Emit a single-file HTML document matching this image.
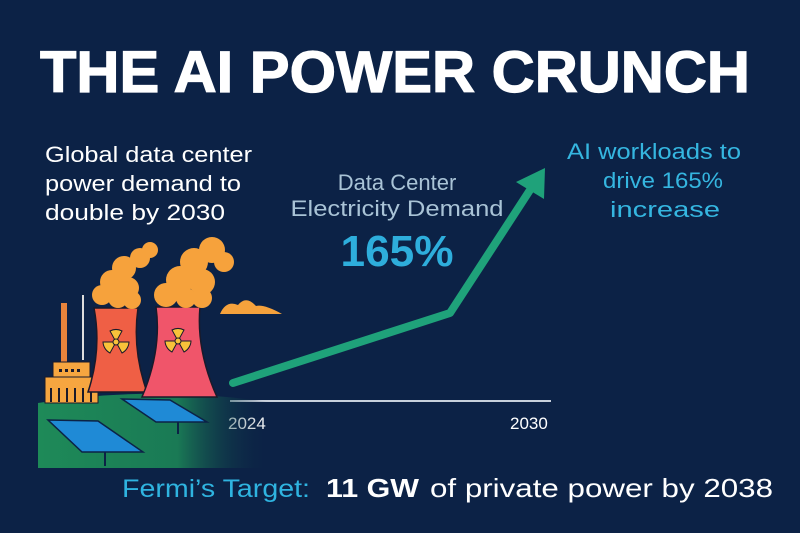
<!DOCTYPE html>
<html><head><meta charset="utf-8"><style>
html,body{margin:0;padding:0;background:#0c2246;}
svg{display:block}
text{font-family:"Liberation Sans",sans-serif}
</style></head><body>
<svg width="800" height="533" viewBox="0 0 800 533" xmlns="http://www.w3.org/2000/svg">
<defs>
<linearGradient id="hill" x1="0" x2="1" y1="0" y2="0">
<stop offset="0" stop-color="#1e8a58"/><stop offset="0.6" stop-color="#1a7a55"/><stop offset="1" stop-color="#0c2246" stop-opacity="0"/>
</linearGradient>
</defs>
<rect width="800" height="533" fill="#0c2246"/>
<text x="40" y="92" font-size="58" font-weight="bold" fill="#ffffff" stroke="#ffffff" stroke-width="1.2" textLength="710" lengthAdjust="spacingAndGlyphs">THE AI POWER CRUNCH</text>

<g fill="#ffffff" font-size="22">
<text x="45" y="162" textLength="207" lengthAdjust="spacingAndGlyphs">Global data center</text>
<text x="45" y="191" textLength="196" lengthAdjust="spacingAndGlyphs">power demand to</text>
<text x="45" y="220" textLength="180" lengthAdjust="spacingAndGlyphs">double by 2030</text>
</g>
<g fill="#a9c3d6" font-size="22" text-anchor="middle">
<text x="397" y="190">Data Center</text>
<text x="397" y="216" textLength="213" lengthAdjust="spacingAndGlyphs">Electricity Demand</text>
</g>
<text x="397" y="266" text-anchor="middle" font-size="44" font-weight="bold" fill="#2eaedc" textLength="113" lengthAdjust="spacingAndGlyphs">165%</text>
<g fill="#35b6e0" font-size="22">
<text x="567" y="159" textLength="174" lengthAdjust="spacingAndGlyphs">AI workloads to</text>
<text x="603" y="188" textLength="120" lengthAdjust="spacingAndGlyphs">drive 165%</text>
<text x="610" y="217" textLength="110" lengthAdjust="spacingAndGlyphs">increase</text>
</g>

<line x1="230" y1="401" x2="551" y2="401" stroke="#c8d0dc" stroke-width="2"/>
<text x="228" y="429" fill="#ffffff" font-size="17">2024</text>
<text x="510" y="429" fill="#ffffff" font-size="17">2030</text>
<polyline points="233,383 450,313 530,190" fill="none" stroke="#1fa27a" stroke-width="8" stroke-linecap="round" stroke-linejoin="round"/>
<polygon points="545,168 544,199 516,182" fill="#1fa27a"/>

<path d="M38,403 Q150,385 270,402 L270,468 L38,468 Z" fill="url(#hill)"/>
<rect x="61" y="303" width="6" height="60" fill="#e8843c"/>
<rect x="82" y="295" width="2" height="65" fill="#dddddd"/>
<rect x="53" y="362" width="37" height="16" fill="#f6a640" stroke="#1a1a2a" stroke-width="1"/>
<rect x="45" y="377" width="53" height="26" fill="#f6a640" stroke="#1a1a2a" stroke-width="1"/>
<g fill="#1a1a2a"><rect x="59" y="369" width="3" height="3"/><rect x="65" y="369" width="3" height="3"/><rect x="71" y="369" width="3" height="3"/><rect x="77" y="369" width="3" height="3"/>
<rect x="50" y="388" width="2" height="14"/><rect x="58" y="388" width="2" height="14"/><rect x="66" y="388" width="2" height="14"/><rect x="74" y="388" width="2" height="14"/><rect x="82" y="388" width="2" height="14"/><rect x="90" y="388" width="2" height="14"/></g>
<path d="M94,308 L138,308 Q132,350 147,392 L88,392 Q102,350 94,308 Z" fill="#ef5f45" stroke="#1a1a2a" stroke-width="1.5"/>
<path d="M156,307 L200,307 Q196,350 217,397 L142,397 Q162,350 156,307 Z" fill="#f0556a" stroke="#1a1a2a" stroke-width="1.5"/>
<g fill="#f8c23a" stroke="#1a1a2a" stroke-width="1">
<path d="M116,342 L110,331 A13,13 0 0 1 122,331 Z"/><path d="M116,342 L129,342 A13,13 0 0 1 122,353 Z"/><path d="M116,342 L110,353 A13,13 0 0 1 103,342 Z"/><circle cx="116" cy="342" r="3"/>
<path d="M178,341 L172,330 A13,13 0 0 1 184,330 Z"/><path d="M178,341 L191,341 A13,13 0 0 1 184,352 Z"/><path d="M178,341 L172,352 A13,13 0 0 1 165,341 Z"/><circle cx="178" cy="341" r="3"/>
</g>
<g fill="#f6a23c">
<circle cx="102" cy="295" r="10"/><circle cx="112" cy="282" r="12"/><circle cx="124" cy="268" r="12"/><circle cx="140" cy="258" r="10"/><circle cx="150" cy="250" r="8"/><circle cx="128" cy="288" r="11"/><circle cx="118" cy="298" r="10"/><circle cx="132" cy="300" r="9"/>
<circle cx="166" cy="295" r="12"/><circle cx="180" cy="280" r="14"/><circle cx="194" cy="262" r="14"/><circle cx="212" cy="250" r="13"/><circle cx="224" cy="262" r="10"/><circle cx="202" cy="282" r="13"/><circle cx="186" cy="298" r="10"/><circle cx="202" cy="298" r="10"/>
<path d="M220,314 Q226,300 238,305 Q246,295 256,306 Q264,304 282,314 Z"/>
</g>
<g fill="#1f8ad6" stroke="#0c2246" stroke-width="1.5">
<path d="M48,420 L98,421 L143,452 L82,452 Z"/>
<path d="M122,399 L170,400 L207,422 L156,422 Z"/>
</g>
<line x1="105" y1="452" x2="105" y2="466" stroke="#0c2246" stroke-width="2"/>
<line x1="178" y1="422" x2="178" y2="434" stroke="#0c2246" stroke-width="2"/>

<text x="122" y="497" font-size="25" fill="#2fb4e0" textLength="188" lengthAdjust="spacingAndGlyphs">Fermi’s Target:</text>
<text x="326" y="497" font-size="26" font-weight="bold" fill="#ffffff" textLength="93" lengthAdjust="spacingAndGlyphs">11 GW</text>
<text x="430" y="497" font-size="26" fill="#ffffff" textLength="343" lengthAdjust="spacingAndGlyphs">of private power by 2038</text>
</svg>
</body></html>
